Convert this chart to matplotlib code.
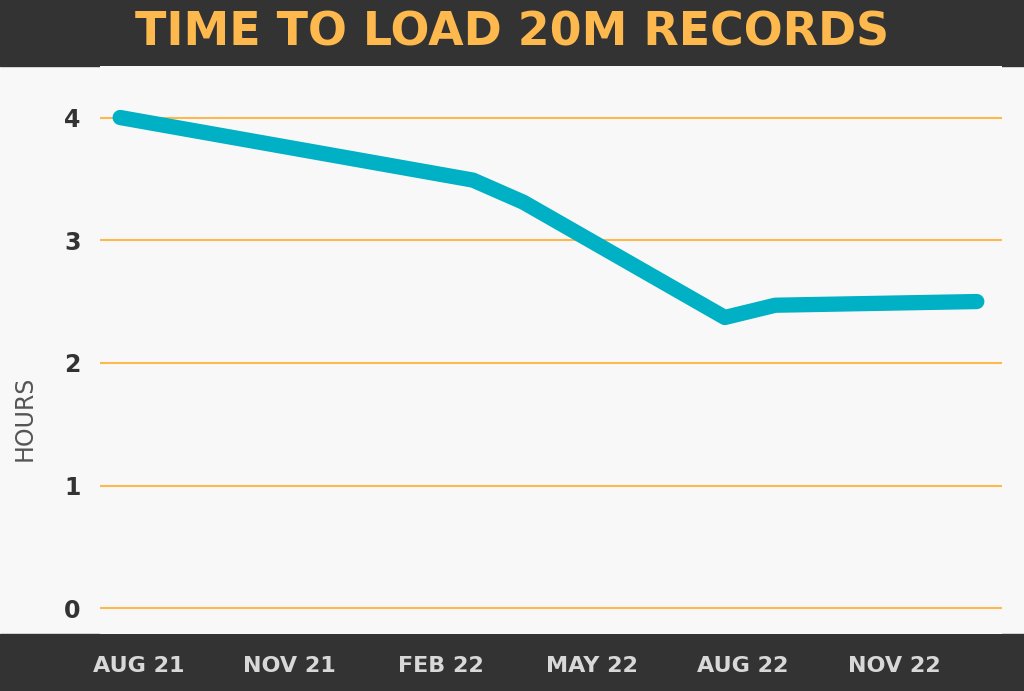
import matplotlib
matplotlib.use("Agg")
import matplotlib.pyplot as plt
from matplotlib.patches import Rectangle

months = [0, 7, 8, 12, 13, 17]
hours = [4.0, 3.49, 3.31, 2.37, 2.47, 2.50]
tick_labels = ["AUG 21", "NOV 21", "FEB 22", "MAY 22", "AUG 22", "NOV 22"]
yticks = [0, 1, 2, 3, 4]

W, H = 1024, 691
fig = plt.figure(figsize=(W/100, H/100), dpi=100, facecolor="#f8f8f8")
dark = "#333333"
fig.patches.append(Rectangle((0, 1-66/H), 1, 66/H, transform=fig.transFigure, color=dark, zorder=-5))
fig.patches.append(Rectangle((0, 0), 1, 57/H, transform=fig.transFigure, color=dark, zorder=-5))
fig.text(0.5, 1-33/H, "TIME TO LOAD 20M RECORDS", ha="center", va="center",
         color="#fdb94e", fontsize=33, fontweight="heavy", family="DejaVu Sans")

ax = fig.add_axes([100/W, 57/H, 902/W, (634-66)/H])
ax.set_zorder(2)
ax.set_facecolor("#f8f8f8")
ax.plot(months, hours, color="#00b0c4", lw=11, solid_capstyle="round", solid_joinstyle="round", zorder=3)
ax.set_xlim(-0.4, 17.5)
ax.set_ylim(-0.21, 4.42)
ax.set_yticks(yticks)
ax.set_yticklabels([str(v) for v in yticks], fontsize=17, fontweight="bold", color="#333333")
ax.set_xticks([0.36 + 3*i for i in range(len(tick_labels))])
ax.set_xticklabels(tick_labels, fontsize=16, fontweight="bold", color="#d8d8d8")
ax.tick_params(axis="x", length=0, pad=16)
ax.tick_params(axis="y", length=0, pad=14)
ax.grid(axis="y", color="#fdb94e", lw=1.5)
ax.set_axisbelow(True)
for s in ax.spines.values():
    s.set_visible(False)
ax.set_ylabel("HOURS", fontsize=17, color="#555555", labelpad=18)
ax.yaxis.set_label_coords(-0.07, 0.38)
fig.savefig("out.png", dpi=100, facecolor=fig.get_facecolor())
